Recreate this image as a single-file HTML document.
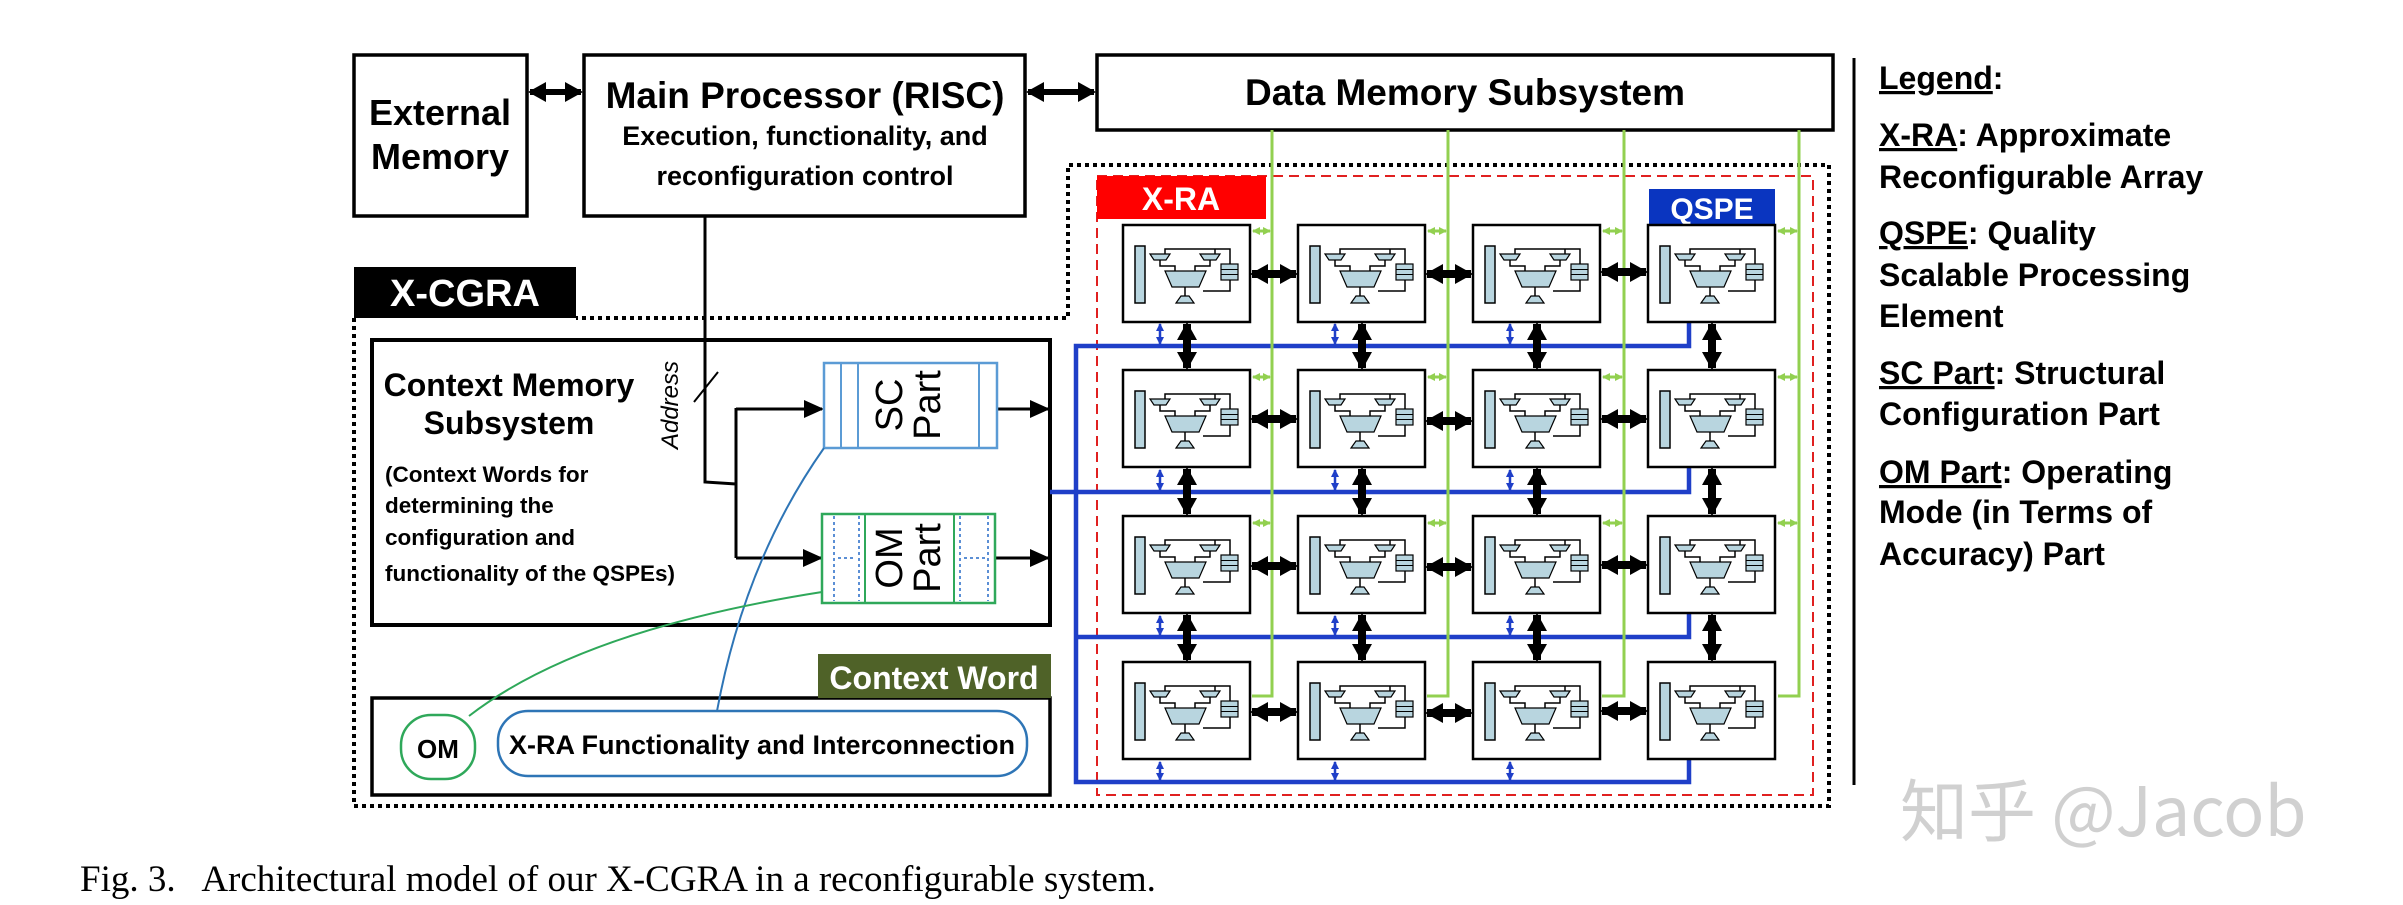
<!DOCTYPE html>
<html><head><meta charset="utf-8"><style>
html,body{margin:0;padding:0;background:#fff;}
svg{display:block;}
.b{font-family:"Liberation Sans",Arial,sans-serif;font-weight:bold;}
.r{font-family:"Liberation Sans",Arial,sans-serif;}
</style></head><body>
<svg width="2403" height="905" viewBox="0 0 2403 905" xmlns="http://www.w3.org/2000/svg">
<defs>
<marker id="ak" markerUnits="userSpaceOnUse" markerWidth="18" markerHeight="20" refX="16" refY="10" orient="auto-start-reverse"><path d="M0,0 L18,10 L0,20 Z" fill="#000"/></marker>
<marker id="as" markerUnits="userSpaceOnUse" markerWidth="20" markerHeight="18" refX="18" refY="9" orient="auto-start-reverse"><path d="M0,0 L20,9 L0,18 Z" fill="#000"/></marker>
<marker id="ab" markerUnits="userSpaceOnUse" markerWidth="8" markerHeight="8" refX="7" refY="4" orient="auto-start-reverse"><path d="M0,0 L8,4 L0,8 Z" fill="#1f3fc8"/></marker>
<marker id="ag" markerUnits="userSpaceOnUse" markerWidth="8" markerHeight="8" refX="7" refY="4" orient="auto-start-reverse"><path d="M0,0 L8,4 L0,8 Z" fill="#92d050"/></marker>
<g id="pe">
<rect x="0" y="0" width="127" height="97" fill="#fff" stroke="#000" stroke-width="2.5"/>
<rect x="12" y="21" width="10" height="57" fill="#b8d5df" stroke="#000" stroke-width="1.5"/>
<polyline points="42,29 42,24 107,24 107,66 80,66" fill="none" stroke="#000" stroke-width="1.5"/>
<polyline points="92,29 92,24" fill="none" stroke="#000" stroke-width="1.5"/>
<polyline points="37,35 37,41 52,41 52,46" fill="none" stroke="#000" stroke-width="1.5"/>
<polyline points="87,35 87,41 72,41 72,46" fill="none" stroke="#000" stroke-width="1.5"/>
<line x1="62" y1="62" x2="62" y2="71" stroke="#000" stroke-width="1.5"/>
<polygon points="27,29 47,29 43,35 31,35" fill="#b8d5df" stroke="#000" stroke-width="1.2"/>
<polygon points="77,29 97,29 93,35 81,35" fill="#b8d5df" stroke="#000" stroke-width="1.2"/>
<polygon points="42,46 83,46 76,62 49,62" fill="#b8d5df" stroke="#000" stroke-width="1.2"/>
<polygon points="53,78 71,78 66,71 58,71" fill="#b8d5df" stroke="#000" stroke-width="1.2"/>
<rect x="98" y="39" width="17" height="16" fill="#b8d5df" stroke="#000" stroke-width="1.2"/>
<line x1="98" y1="44.5" x2="115" y2="44.5" stroke="#000" stroke-width="1"/>
<line x1="98" y1="49.5" x2="115" y2="49.5" stroke="#000" stroke-width="1"/>
</g>
</defs>

<!-- top boxes -->
<rect x="354" y="55" width="173" height="161" fill="none" stroke="#000" stroke-width="3.5"/>
<text class="b" x="440" y="125" font-size="36" text-anchor="middle">External</text>
<text class="b" x="440" y="169" font-size="36" text-anchor="middle">Memory</text>
<rect x="584" y="55" width="441" height="161" fill="none" stroke="#000" stroke-width="3.5"/>
<text class="b" x="805" y="108" font-size="37" text-anchor="middle">Main Processor (RISC)</text>
<text class="b" x="805" y="145" font-size="27" text-anchor="middle">Execution, functionality, and</text>
<text class="b" x="805" y="185" font-size="27" text-anchor="middle">reconfiguration control</text>
<rect x="1097" y="55" width="736" height="75" fill="none" stroke="#000" stroke-width="3.5"/>
<text class="b" x="1465" y="105" font-size="37" text-anchor="middle">Data Memory Subsystem</text>
<line x1="530" y1="92" x2="581" y2="92" stroke="#000" stroke-width="6" marker-start="url(#ak)" marker-end="url(#ak)"/>
<line x1="1028" y1="92" x2="1094" y2="92" stroke="#000" stroke-width="6" marker-start="url(#ak)" marker-end="url(#ak)"/>

<!-- legend -->
<line x1="1854" y1="58" x2="1854" y2="785" stroke="#000" stroke-width="3"/>
<g class="b" font-size="32">
<text x="1879" y="89"><tspan text-decoration="underline">Legend</tspan>:</text>
<text x="1879" y="146"><tspan text-decoration="underline">X-RA</tspan>: Approximate</text>
<text x="1879" y="188">Reconfigurable Array</text>
<text x="1879" y="244"><tspan text-decoration="underline">QSPE</tspan>: Quality</text>
<text x="1879" y="286">Scalable Processing</text>
<text x="1879" y="327">Element</text>
<text x="1879" y="384"><tspan text-decoration="underline">SC Part</tspan>: Structural</text>
<text x="1879" y="425">Configuration Part</text>
<text x="1879" y="483"><tspan text-decoration="underline">OM Part</tspan>: Operating</text>
<text x="1879" y="523">Mode (in Terms of</text>
<text x="1879" y="565">Accuracy) Part</text>
</g>

<!-- X-CGRA dotted outline -->
<polyline points="354,318 354,806 1829,806 1829,165 1068,165 1068,318 576,318" fill="none" stroke="#000" stroke-width="4" stroke-dasharray="4,4"/>
<rect x="354" y="267" width="222" height="51" fill="#000"/>
<text class="b" x="465" y="306" font-size="38" fill="#fff" text-anchor="middle">X-CGRA</text>

<!-- context memory -->
<rect x="372" y="340" width="678" height="285" fill="none" stroke="#000" stroke-width="4"/>
<text class="b" x="509" y="396" font-size="32" text-anchor="middle">Context Memory</text>
<text class="b" x="509" y="434" font-size="32" text-anchor="middle">Subsystem</text>
<g class="b" font-size="22.5">
<text x="385" y="482">(Context Words for</text>
<text x="385" y="513">determining the</text>
<text x="385" y="545">configuration and</text>
<text x="385" y="581">functionality of the QSPEs)</text>
</g>
<!-- address line -->
<polyline points="705,216 705,482 736,484" fill="none" stroke="#000" stroke-width="3"/>
<line x1="694" y1="402" x2="718" y2="372" stroke="#000" stroke-width="2"/>
<text class="r" font-style="italic" font-size="24" transform="translate(678,405) rotate(-90)" text-anchor="middle">Address</text>
<line x1="736" y1="408" x2="736" y2="558" stroke="#000" stroke-width="3"/>
<line x1="736" y1="409" x2="822" y2="409" stroke="#000" stroke-width="3" marker-end="url(#as)"/>
<line x1="736" y1="558" x2="821" y2="558" stroke="#000" stroke-width="3" marker-end="url(#as)"/>
<line x1="997" y1="409" x2="1048" y2="409" stroke="#000" stroke-width="3" marker-end="url(#as)"/>
<line x1="995" y1="558" x2="1048" y2="558" stroke="#000" stroke-width="3" marker-end="url(#as)"/>
<!-- SC part -->
<rect x="824" y="363" width="173" height="85" fill="#fff" stroke="#5b9bd5" stroke-width="2.5"/>
<line x1="841" y1="363" x2="841" y2="448" stroke="#5b9bd5" stroke-width="2"/>
<line x1="858" y1="363" x2="858" y2="448" stroke="#5b9bd5" stroke-width="2"/>
<line x1="979" y1="363" x2="979" y2="448" stroke="#5b9bd5" stroke-width="2"/>
<text class="r" font-size="38" transform="translate(902,405) rotate(-90)" text-anchor="middle">SC</text>
<text class="r" font-size="38" transform="translate(940,405) rotate(-90)" text-anchor="middle">Part</text>
<!-- OM part -->
<rect x="822" y="514" width="173" height="89" fill="#fff" stroke="#2fa85a" stroke-width="2.5"/>
<line x1="865" y1="514" x2="865" y2="603" stroke="#2fa85a" stroke-width="2"/>
<line x1="954" y1="514" x2="954" y2="603" stroke="#2fa85a" stroke-width="2"/>
<g stroke="#5b8fd5" stroke-width="2" stroke-dasharray="3,3">
<line x1="834" y1="516" x2="834" y2="601"/><line x1="859" y1="516" x2="859" y2="601"/>
<line x1="960" y1="516" x2="960" y2="601"/><line x1="988" y1="516" x2="988" y2="601"/>
<line x1="838" y1="558" x2="856" y2="558"/><line x1="964" y1="558" x2="985" y2="558"/>
</g>
<text class="r" font-size="38" transform="translate(902,558) rotate(-90)" text-anchor="middle">OM</text>
<text class="r" font-size="38" transform="translate(940,558) rotate(-90)" text-anchor="middle">Part</text>

<!-- context word -->
<rect x="372" y="698" width="678" height="97" fill="none" stroke="#000" stroke-width="3.5"/>
<rect x="818" y="654" width="233" height="44" fill="#4f6228"/>
<text class="b" x="934" y="689" font-size="32" fill="#fff" text-anchor="middle">Context Word</text>
<rect x="401" y="715" width="74" height="64" rx="30" fill="#fff" stroke="#2fa85a" stroke-width="2.5"/>
<text class="b" x="438" y="758" font-size="26" text-anchor="middle">OM</text>
<rect x="498" y="711" width="529" height="65" rx="30" fill="#fff" stroke="#2e75b6" stroke-width="2.5"/>
<text class="b" x="762" y="754" font-size="27" text-anchor="middle">X-RA Functionality and Interconnection</text>
<path d="M824,448 Q745,560 717,711" fill="none" stroke="#2e75b6" stroke-width="2"/>
<path d="M822,592 Q580,630 469,716" fill="none" stroke="#2fa85a" stroke-width="2"/>

<!-- X-RA region -->
<rect x="1097" y="176" width="716" height="619" fill="none" stroke="#e02020" stroke-width="2" stroke-dasharray="10,6"/>
<rect x="1097" y="176" width="169" height="43" fill="#ff0000"/>
<text class="b" x="1181" y="210" font-size="32" fill="#fff" text-anchor="middle">X-RA</text>
<rect x="1649" y="189" width="126" height="36" fill="#0a35c0"/>
<text class="b" x="1712" y="219" font-size="30" fill="#fff" text-anchor="middle">QSPE</text>

<!-- blue lines -->
<g stroke="#1f3fc8" stroke-width="4.5" fill="none">
<line x1="1050" y1="492" x2="1076" y2="492"/>
<polyline points="1689,322 1689,346 1076,346 1076,782 1689,782 1689,760"/>
<polyline points="1689,468 1689,492 1076,492"/>
<polyline points="1689,614 1689,637 1076,637"/>
</g>
<g stroke="#1f3fc8" stroke-width="2.5" marker-start="url(#ab)" marker-end="url(#ab)">
<line x1="1160" y1="324" x2="1160" y2="344"/><line x1="1335" y1="324" x2="1335" y2="344"/><line x1="1510" y1="324" x2="1510" y2="344"/>
<line x1="1160" y1="470" x2="1160" y2="490"/><line x1="1335" y1="470" x2="1335" y2="490"/><line x1="1510" y1="470" x2="1510" y2="490"/>
<line x1="1160" y1="616" x2="1160" y2="635"/><line x1="1335" y1="616" x2="1335" y2="635"/><line x1="1510" y1="616" x2="1510" y2="635"/>
<line x1="1160" y1="762" x2="1160" y2="780"/><line x1="1335" y1="762" x2="1335" y2="780"/><line x1="1510" y1="762" x2="1510" y2="780"/>
</g>

<!-- green lines -->
<g stroke="#92d050" stroke-width="3" fill="none">
<polyline points="1272,130 1272,696 1252,696"/>
<polyline points="1448,130 1448,696 1427,696"/>
<polyline points="1624,130 1624,696 1602,696"/>
<polyline points="1799,130 1799,696 1778,696"/>
</g>
<g stroke="#92d050" stroke-width="3" marker-start="url(#ag)" marker-end="url(#ag)">
<line x1="1253" y1="231" x2="1270" y2="231"/><line x1="1428" y1="231" x2="1446" y2="231"/><line x1="1603" y1="231" x2="1622" y2="231"/><line x1="1778" y1="231" x2="1797" y2="231"/>
<line x1="1253" y1="377" x2="1270" y2="377"/><line x1="1428" y1="377" x2="1446" y2="377"/><line x1="1603" y1="377" x2="1622" y2="377"/><line x1="1778" y1="377" x2="1797" y2="377"/>
<line x1="1253" y1="523" x2="1270" y2="523"/><line x1="1428" y1="523" x2="1446" y2="523"/><line x1="1603" y1="523" x2="1622" y2="523"/><line x1="1778" y1="523" x2="1797" y2="523"/>
</g>

<!-- PEs -->
<use href="#pe" x="1123" y="225"/><use href="#pe" x="1298" y="225"/><use href="#pe" x="1473" y="225"/><use href="#pe" x="1648" y="225"/>
<use href="#pe" x="1123" y="370"/><use href="#pe" x="1298" y="370"/><use href="#pe" x="1473" y="370"/><use href="#pe" x="1648" y="370"/>
<use href="#pe" x="1123" y="516"/><use href="#pe" x="1298" y="516"/><use href="#pe" x="1473" y="516"/><use href="#pe" x="1648" y="516"/>
<use href="#pe" x="1123" y="662"/><use href="#pe" x="1298" y="662"/><use href="#pe" x="1473" y="662"/><use href="#pe" x="1648" y="662"/>

<!-- black arrows -->
<g stroke="#000" stroke-width="8" marker-start="url(#ak)" marker-end="url(#ak)">
<line x1="1252" y1="274" x2="1296" y2="274"/><line x1="1427" y1="274" x2="1471" y2="274"/><line x1="1602" y1="272" x2="1646" y2="272"/>
<line x1="1252" y1="419" x2="1296" y2="419"/><line x1="1427" y1="421" x2="1471" y2="421"/><line x1="1602" y1="419" x2="1646" y2="419"/>
<line x1="1252" y1="566" x2="1296" y2="566"/><line x1="1427" y1="567" x2="1471" y2="567"/><line x1="1602" y1="565" x2="1646" y2="565"/>
<line x1="1252" y1="712" x2="1296" y2="712"/><line x1="1427" y1="713" x2="1471" y2="713"/><line x1="1602" y1="711" x2="1646" y2="711"/>
<line x1="1187" y1="324" x2="1187" y2="368"/><line x1="1362" y1="324" x2="1362" y2="368"/><line x1="1537" y1="324" x2="1537" y2="368"/><line x1="1712" y1="324" x2="1712" y2="368"/>
<line x1="1187" y1="469" x2="1187" y2="514"/><line x1="1362" y1="469" x2="1362" y2="514"/><line x1="1537" y1="469" x2="1537" y2="514"/><line x1="1712" y1="469" x2="1712" y2="514"/>
<line x1="1187" y1="615" x2="1187" y2="660"/><line x1="1362" y1="615" x2="1362" y2="660"/><line x1="1537" y1="615" x2="1537" y2="660"/><line x1="1712" y1="615" x2="1712" y2="660"/>
</g>

<!-- watermark & caption -->
<text x="1900" y="836" font-family="'Noto Sans CJK SC','Liberation Sans',sans-serif" font-size="68" fill="#d0d0d0">知乎 @Jacob</text>
<text x="80" y="891" font-family="'Liberation Serif',serif" font-size="37" xml:space="preserve">Fig. 3.   Architectural model of our X-CGRA in a reconfigurable system.</text>
</svg>
</body></html>
